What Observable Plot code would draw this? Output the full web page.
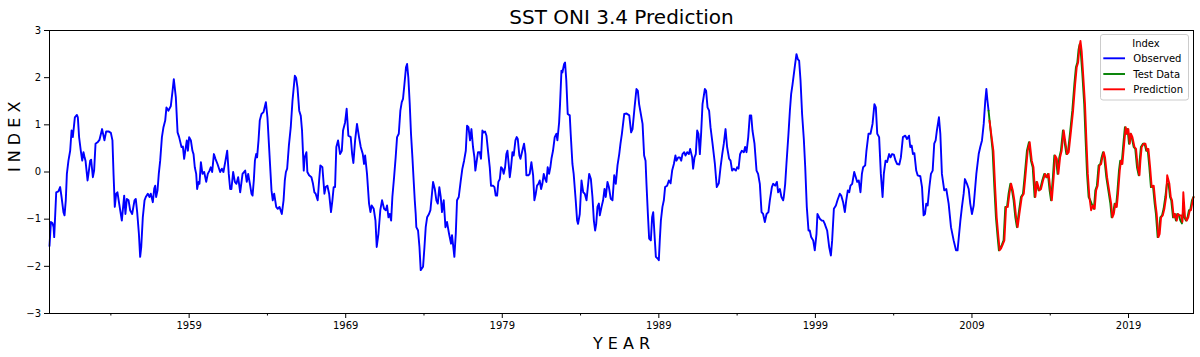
<!DOCTYPE html>
<html>
<head>
<meta charset="utf-8">
<script src="https://cdn.jsdelivr.net/npm/d3@7"></script>
<script src="https://cdn.jsdelivr.net/npm/@observablehq/plot@0.6"></script>
<style>
  html, body { margin: 0; padding: 0; background: white; }
  #wrap { position: relative; width: 1200px; height: 357px; font-family: "DejaVu Sans", sans-serif; }
  #legend { position: absolute; left: 1100px; top: 34px; }
</style>
</head>
<body>
<div id="wrap"></div>
<script>
const titleText = "SST ONI 3.4 Prediction";
const xLabel = "Y E A R";
const yLabel = "I N D E X";
const seriesNames = ["Observed", "Test Data", "Prediction"];
const seriesColors = ["#0000ff", "#008000", "#ff0000"];
const legendTitle = "Index";
const xMajorTicks = [1959, 1969, 1979, 1989, 1999, 2009, 2019];
const xMinorTicks = [1954, 1964, 1974, 1984, 1994, 2004, 2014];
const yTicks = [-3, -2, -1, 0, 1, 2, 3];

// [year, index]
const observed = [
[1950.08,-1.57],[1950.17,-1.06],[1950.27,-1.08],[1950.34,-1.17],[1950.38,-1.38],[1950.51,-0.43],[1950.65,-0.41],[1950.76,-0.32],[1950.85,-0.53],[1950.97,-0.85],
[1951.04,-0.92],[1951.12,-0.60],[1951.19,-0.04],[1951.29,0.24],[1951.40,0.45],[1951.49,0.88],[1951.57,0.74],[1951.70,1.16],[1951.83,1.21],[1951.89,1.16],[1951.97,0.74],
[1952.08,0.45],[1952.17,0.24],[1952.25,0.42],[1952.32,0.31],[1952.38,0.24],[1952.51,-0.18],[1952.57,-0.04],[1952.68,0.24],[1952.74,0.26],[1952.85,-0.11],[1952.93,0.03],
[1953.02,0.60],[1953.15,0.63],[1953.27,0.68],[1953.44,0.91],[1953.59,0.67],[1953.70,0.86],[1953.85,0.86],[1954.00,0.83],[1954.10,0.67],[1954.17,-0.04],[1954.25,-0.74],
[1954.34,-0.46],[1954.42,-0.43],[1954.53,-0.67],[1954.70,-1.03],[1954.85,-0.50],[1954.93,-0.89],[1955.02,-0.57],[1955.13,-0.60],[1955.23,-0.81],[1955.36,-0.89],
[1955.51,-0.60],[1955.59,-0.57],[1955.68,-0.85],[1955.79,-1.31],[1955.87,-1.80],[1955.94,-1.59],[1956.04,-0.96],[1956.15,-0.60],[1956.23,-0.53],[1956.36,-0.46],
[1956.47,-0.53],[1956.55,-0.46],[1956.68,-0.64],[1956.77,-0.35],[1956.83,-0.29],[1956.89,-0.53],[1956.98,-0.39],[1957.06,-0.04],[1957.15,0.24],[1957.26,0.74],
[1957.36,0.95],[1957.47,1.09],[1957.55,1.37],[1957.68,1.30],[1957.83,1.40],[1957.94,1.72],[1958.02,1.97],[1958.15,1.58],[1958.26,0.84],[1958.36,0.74],[1958.51,0.53],
[1958.60,0.54],[1958.68,0.28],[1958.77,0.49],[1958.85,0.67],[1958.92,0.45],[1959.00,0.74],[1959.11,0.67],[1959.21,0.45],[1959.28,0.38],[1959.36,0.10],[1959.45,-0.04],
[1959.51,-0.36],[1959.60,-0.21],[1959.66,-0.25],[1959.75,0.21],[1959.85,-0.04],[1959.96,0.00],[1960.09,-0.21],[1960.19,-0.04],[1960.30,0.03],[1960.38,0.10],[1960.47,0.00],
[1960.58,0.38],[1960.68,0.28],[1960.81,0.17],[1960.98,0.00],[1961.09,0.07],[1961.19,0.00],[1961.32,0.24],[1961.43,0.45],[1961.53,-0.04],[1961.62,-0.36],[1961.70,-0.36],
[1961.81,0.00],[1961.92,-0.21],[1962.02,-0.25],[1962.13,-0.11],[1962.26,-0.43],[1962.41,-0.04],[1962.58,0.03],[1962.68,-0.21],[1962.77,-0.04],[1962.90,-0.29],[1962.98,-0.46],
[1963.05,-0.50],[1963.13,-0.18],[1963.20,0.24],[1963.28,0.38],[1963.34,0.31],[1963.43,0.67],[1963.51,1.09],[1963.62,1.23],[1963.75,1.27],[1963.90,1.48],[1964.00,1.16],
[1964.07,0.74],[1964.17,0.14],[1964.26,-0.39],[1964.34,-0.60],[1964.43,-0.46],[1964.56,-0.74],[1964.66,-0.78],[1964.77,-0.74],[1964.92,-0.89],[1965.03,-0.60],[1965.11,-0.18],
[1965.18,0.00],[1965.26,0.07],[1965.37,0.56],[1965.49,0.95],[1965.60,1.51],[1965.66,1.72],[1965.75,2.04],[1965.83,2.00],[1965.92,1.79],[1966.03,1.30],
[1966.13,1.19],[1966.21,0.88],[1966.32,0.03],[1966.38,0.31],[1966.49,0.42],[1966.55,0.00],[1966.66,-0.07],[1966.81,-0.11],[1966.91,-0.25],[1967.00,-0.43],[1967.08,-0.46],
[1967.21,-0.60],[1967.30,-0.18],[1967.38,0.14],[1967.51,0.10],[1967.64,-0.46],[1967.72,-0.32],[1967.83,-0.29],[1967.94,-0.46],[1968.06,-0.85],[1968.15,-0.60],[1968.23,-0.32],
[1968.32,-0.32],[1968.40,0.53],[1968.51,0.67],[1968.64,0.38],[1968.75,0.45],[1968.83,0.88],[1968.96,1.05],[1969.06,1.34],[1969.17,0.77],[1969.32,0.74],[1969.41,0.38],
[1969.49,0.19],[1969.60,0.67],[1969.72,1.02],[1969.85,0.74],[1969.96,0.53],[1970.09,0.38],[1970.17,0.17],[1970.24,0.35],[1970.36,-0.04],[1970.49,-0.67],[1970.58,-0.85],
[1970.66,-0.71],[1970.79,-0.78],[1970.90,-1.03],[1970.98,-1.59],[1971.09,-1.31],[1971.21,-0.81],[1971.32,-0.60],[1971.45,-0.78],[1971.56,-0.81],[1971.64,-0.71],[1971.73,-0.96],
[1971.81,-0.89],[1971.90,-1.03],[1971.98,-0.53],[1972.09,-0.11],[1972.19,0.31],[1972.28,0.74],[1972.39,0.81],[1972.49,1.30],[1972.58,1.48],[1972.66,1.55],[1972.75,1.86],
[1972.85,2.22],[1972.92,2.29],[1973.00,2.00],[1973.09,1.44],[1973.17,0.81],[1973.26,0.31],[1973.34,-0.18],[1973.41,-0.60],[1973.47,-0.89],[1973.51,-1.17],[1973.62,-1.24],
[1973.71,-1.59],[1973.79,-2.08],[1973.94,-2.01],[1974.03,-1.59],[1974.11,-1.17],[1974.20,-0.96],[1974.32,-0.89],[1974.41,-0.81],[1974.49,-0.53],[1974.58,-0.21],[1974.69,-0.36],
[1974.79,-0.60],[1974.88,-0.67],[1974.98,-0.32],[1975.07,-0.53],[1975.15,-0.85],[1975.26,-0.60],[1975.37,-1.17],[1975.47,-1.06],[1975.60,-1.31],[1975.73,-1.52],[1975.79,-1.34],
[1975.94,-1.80],[1976.03,-1.31],[1976.11,-0.60],[1976.22,-0.53],[1976.35,-0.18],[1976.45,0.07],[1976.56,0.24],[1976.67,0.45],[1976.75,0.98],[1976.84,0.95],[1976.94,0.67],
[1977.03,0.91],[1977.13,0.53],[1977.22,0.31],[1977.28,0.03],[1977.37,0.24],[1977.45,0.42],[1977.56,0.42],[1977.64,0.28],[1977.73,0.88],[1977.81,0.84],[1977.90,0.86],
[1977.99,0.77],[1978.11,0.38],[1978.20,0.10],[1978.28,-0.29],[1978.41,-0.29],[1978.50,-0.32],[1978.58,-0.50],[1978.67,-0.50],[1978.75,-0.21],[1978.84,-0.15],[1978.92,0.10],
[1979.01,0.07],[1979.09,-0.04],[1979.18,0.10],[1979.26,0.38],[1979.33,0.45],[1979.41,0.17],[1979.48,-0.11],[1979.56,0.10],[1979.65,0.42],[1979.73,0.35],[1979.84,0.67],
[1979.92,0.74],[1979.99,0.70],[1980.09,0.35],[1980.16,0.28],[1980.28,0.45],[1980.39,0.60],[1980.48,0.38],[1980.54,-0.07],[1980.67,-0.07],[1980.75,-0.04],[1980.86,0.21],
[1980.97,-0.07],[1981.05,-0.60],[1981.14,-0.46],[1981.22,-0.29],[1981.31,-0.25],[1981.39,-0.18],[1981.48,-0.36],[1981.56,-0.25],[1981.65,-0.04],[1981.73,-0.14],[1981.82,-0.21],
[1981.90,0.10],[1981.99,-0.04],[1982.07,0.10],[1982.14,0.28],[1982.24,0.45],[1982.35,0.74],[1982.46,0.81],[1982.52,0.67],[1982.63,1.05],[1982.69,1.44],[1982.78,2.15],
[1982.84,2.11],[1982.95,2.29],[1983.01,2.32],[1983.09,1.94],[1983.18,1.23],[1983.31,1.20],[1983.37,0.81],[1983.48,0.17],[1983.56,-0.04],[1983.69,-0.60],[1983.78,-1.03],
[1983.84,-1.10],[1983.95,-0.89],
[1984.06,-0.18],[1984.17,-0.43],[1984.27,-0.46],[1984.38,-0.60],[1984.55,-0.04],[1984.66,-0.15],[1984.76,-0.53],[1984.85,-1.03],[1984.93,-1.24],[1985.00,-1.10],[1985.08,-0.74],
[1985.17,-0.67],[1985.23,-0.92],[1985.34,-0.74],[1985.44,-0.60],[1985.53,-0.36],[1985.61,-0.53],[1985.72,-0.21],[1985.81,-0.32],[1985.93,-0.57],[1986.04,-0.60],[1986.15,-0.07],
[1986.25,-0.25],[1986.36,0.14],[1986.47,0.38],[1986.55,0.60],[1986.64,0.81],[1986.79,1.23],[1986.94,1.24],[1987.11,1.20],[1987.23,0.84],[1987.32,0.91],[1987.45,1.37],
[1987.57,1.76],[1987.66,1.72],[1987.74,1.44],[1987.85,1.23],[1987.96,1.02],[1988.06,0.35],[1988.15,0.24],[1988.21,-0.25],[1988.30,-0.89],[1988.38,-1.41],[1988.49,-1.45],
[1988.57,-0.96],[1988.64,-0.85],[1988.72,-1.31],[1988.81,-1.80],[1988.94,-1.84],[1989.00,-1.87],[1989.06,-1.45],[1989.13,-1.03],[1989.23,-0.74],[1989.32,-0.60],[1989.40,-0.32],
[1989.53,-0.29],[1989.64,-0.18],[1989.75,-0.24],[1989.85,0.03],[1989.96,0.17],[1990.06,0.35],[1990.13,0.24],[1990.24,0.31],[1990.34,0.31],[1990.43,0.24],[1990.51,0.38],
[1990.62,0.42],[1990.70,0.35],[1990.81,0.42],[1990.92,0.38],[1991.00,0.49],[1991.13,0.31],[1991.19,0.07],[1991.28,0.31],[1991.36,0.38],[1991.45,0.88],[1991.53,0.81],
[1991.62,0.38],[1991.70,0.81],[1991.79,1.44],[1991.94,1.76],[1992.02,1.72],[1992.11,1.37],[1992.21,1.30],[1992.30,0.95],[1992.43,0.60],[1992.58,0.17],[1992.70,-0.32],
[1992.83,-0.24],[1992.94,0.10],[1993.05,0.38],[1993.15,0.60],[1993.26,0.91],[1993.36,0.53],[1993.49,0.28],[1993.58,0.24],[1993.68,0.03],[1993.79,0.07],[1993.92,0.03],
[1994.00,0.10],[1994.09,0.07],[1994.19,0.38],[1994.30,0.45],[1994.43,0.42],[1994.51,0.53],[1994.60,0.42],[1994.71,0.74],[1994.81,1.20],[1994.90,1.20],[1994.98,0.88],
[1995.11,0.60],[1995.24,0.03],[1995.34,-0.04],[1995.45,-0.25],[1995.56,-0.85],[1995.66,-0.89],[1995.77,-1.06],[1995.88,-0.89],[1996.00,-0.85],[1996.09,-0.60],[1996.22,-0.32],
[1996.30,-0.25],[1996.43,-0.29],[1996.54,-0.21],[1996.62,-0.43],[1996.73,-0.36],[1996.83,-0.53],[1996.94,-0.60],[1996.98,-0.53],[1997.07,-0.25],[1997.15,0.17],[1997.28,0.81],
[1997.37,1.30],[1997.45,1.65],[1997.54,1.86],[1997.69,2.25],[1997.79,2.50],[1997.88,2.39],[1997.96,2.36],[1998.05,1.94],[1998.15,1.23],[1998.26,0.70],[1998.35,0.10],
[1998.45,-0.74],[1998.56,-1.24],[1998.64,-1.24],[1998.73,-1.38],[1998.86,-1.45],[1998.96,-1.66],[1999.07,-1.31],[1999.13,-0.89],[1999.28,-0.99],[1999.41,-1.03],[1999.50,-1.03],
[1999.60,-1.10],[1999.67,-1.17],[1999.75,-1.24],[1999.88,-1.59],[1999.99,-1.77],[2000.07,-1.45],[2000.18,-0.78],[2000.31,-0.71],[2000.41,-0.60],[2000.56,-0.46],[2000.65,-0.50],
[2000.77,-0.64],[2000.88,-0.85],[2000.97,-0.60],[2001.07,-0.39],[2001.16,-0.43],[2001.24,-0.29],[2001.35,-0.25],[2001.48,0.00],[2001.58,-0.11],[2001.67,-0.21],[2001.77,-0.18],
[2001.88,-0.43],[2001.97,-0.04],[2002.05,0.10],[2002.18,0.14],[2002.26,0.45],[2002.39,0.81],[2002.52,0.81],[2002.65,1.02],[2002.77,1.44],[2002.86,1.37],[2002.95,0.81],
[2003.07,0.74],[2003.18,-0.04],[2003.29,-0.53],[2003.37,-0.04],[2003.48,0.24],[2003.58,0.21],[2003.71,0.38],[2003.80,0.31],[2003.90,0.38],[2004.01,0.37],[2004.12,0.24],
[2004.22,0.17],
[2004.36,0.16],[2004.46,0.31],[2004.59,0.74],[2004.74,0.77],[2004.85,0.70],[2004.98,0.77],[2005.06,0.53],[2005.15,0.56],[2005.23,0.38],[2005.32,0.40],[2005.44,0.03],
[2005.53,-0.07],[2005.70,-0.09],[2005.81,-0.32],[2005.91,-0.92],[2006.00,-0.89],[2006.08,-0.67],[2006.17,-0.71],[2006.28,-0.32],[2006.38,-0.04],[2006.49,0.03],[2006.59,0.60],
[2006.68,0.67],[2006.76,0.88],[2006.89,1.16],[2006.98,0.81],[2007.08,-0.04],[2007.23,-0.39],[2007.36,-0.36],[2007.51,-0.67],[2007.66,-1.17],[2007.83,-1.45],[2007.98,-1.66],
[2008.08,-1.66],[2008.26,-1.03],[2008.36,-0.74],[2008.47,-0.46],[2008.55,-0.15],[2008.68,-0.25],[2008.79,-0.36],[2008.89,-0.67],[2009.00,-0.89],[2009.11,-0.71],[2009.28,-0.04],
[2009.43,0.38],[2009.53,0.53],[2009.64,0.67],[2009.75,1.02],[2009.85,1.51],[2009.92,1.76],[2009.99,1.51],[2010.06,1.30]
];

const testData = [
[2010.06,1.30],[2010.32,0.45],[2010.43,-0.32],[2010.53,-0.96],[2010.64,-1.38],[2010.72,-1.66],[2010.81,-1.62],[2010.90,-1.55],[2011.02,-1.45],[2011.13,-0.74],
[2011.24,-0.74],[2011.34,-0.46],[2011.45,-0.25],[2011.56,-0.39],[2011.66,-0.60],[2011.77,-0.96],[2011.87,-1.17],[2011.98,-0.89],[2012.13,-0.53],[2012.26,-0.46],
[2012.36,-0.11],[2012.51,0.45],[2012.64,0.63],[2012.77,0.24],[2012.88,0.10],[2013.00,-0.53],[2013.11,-0.21],[2013.26,-0.39],[2013.36,-0.36],[2013.49,-0.18],
[2013.62,-0.04],[2013.75,-0.11],[2013.85,-0.04],[2013.96,-0.39],[2014.05,-0.60],[2014.17,-0.11],[2014.26,0.35],[2014.37,0.28],[2014.47,-0.04],[2014.58,0.31],
[2014.68,0.45],[2014.81,0.88],[2014.90,0.67],[2015.03,0.38],[2015.13,0.42],[2015.28,0.88],[2015.41,1.30],[2015.54,1.86],[2015.64,2.22],[2015.73,2.32],
[2015.81,2.60],[2015.88,2.71],[2015.96,2.50],[2016.05,2.08],[2016.17,1.44],[2016.26,0.67],[2016.35,-0.04],[2016.45,-0.53],[2016.56,-0.60],[2016.69,-0.71],
[2016.79,-0.78],[2016.88,-0.39],[2016.98,-0.29],[2017.09,0.14],[2017.20,0.17],[2017.28,0.31],[2017.37,0.42],[2017.45,0.31],[2017.58,-0.11],[2017.71,-0.39],
[2017.84,-0.67],[2017.92,-0.96],[2018.01,-0.89],[2018.11,-0.67],[2018.20,-0.74],[2018.28,-0.46],[2018.39,0.03],[2018.47,0.24],[2018.56,0.17],[2018.69,0.67],
[2018.77,0.95],[2018.86,0.81],[2018.94,0.91],[2019.03,0.60],[2019.11,0.81],[2019.20,0.74],[2019.33,0.53],[2019.43,0.49],[2019.54,0.10],[2019.65,-0.07],
[2019.71,0.24],[2019.79,0.53],[2019.92,0.60],[2020.03,0.60],[2020.13,0.45],[2020.22,0.49],[2020.33,0.10],[2020.43,-0.32],[2020.56,-0.29],[2020.67,-0.67],
[2020.75,-0.89],[2020.86,-1.38],[2020.94,-1.31],[2021.03,-0.96],[2021.14,-0.92],[2021.24,-0.78],[2021.35,-0.53],[2021.45,-0.25],[2021.56,-0.25],[2021.65,-0.53],
[2021.73,-0.60],[2021.84,-0.96],[2021.92,-0.89],[2022.03,-1.03],[2022.11,-0.89],[2022.22,-0.92],[2022.31,-1.03],[2022.41,-1.09],[2022.48,-0.85],[2022.56,-0.96],
[2022.67,-1.03],[2022.77,-0.96],[2022.86,-0.81],[2022.94,-0.81],[2023.05,-0.60],[2023.15,-0.53]
];

const prediction = [
[2010.12,1.09],[2010.37,0.45],[2010.48,-0.32],[2010.58,-0.96],[2010.69,-1.38],[2010.77,-1.66],[2010.86,-1.62],[2010.95,-1.55],[2011.07,-1.45],[2011.18,-0.74],
[2011.29,-0.74],[2011.39,-0.46],[2011.50,-0.25],[2011.61,-0.39],[2011.71,-0.60],[2011.82,-0.96],[2011.92,-1.17],[2012.03,-0.89],[2012.18,-0.53],[2012.31,-0.46],
[2012.41,-0.11],[2012.56,0.45],[2012.69,0.63],[2012.82,0.24],[2012.93,0.10],[2013.05,-0.53],[2013.16,-0.21],[2013.31,-0.39],[2013.41,-0.36],[2013.54,-0.18],
[2013.67,-0.04],[2013.80,-0.11],[2013.90,-0.04],[2014.01,-0.39],[2014.10,-0.60],[2014.22,-0.11],[2014.31,0.35],[2014.42,0.28],[2014.52,-0.04],[2014.63,0.31],
[2014.73,0.45],[2014.86,0.88],[2014.95,0.67],[2015.08,0.38],[2015.18,0.42],[2015.33,0.88],[2015.46,1.30],[2015.59,1.86],[2015.69,2.22],[2015.78,2.32],
[2015.86,2.64],[2015.93,2.78],[2016.01,2.55],[2016.10,2.08],[2016.22,1.44],[2016.31,0.67],[2016.40,-0.04],[2016.50,-0.53],[2016.61,-0.81],[2016.74,-0.71],
[2016.84,-0.78],[2016.93,-0.39],[2017.03,-0.29],[2017.14,0.14],[2017.25,0.17],[2017.33,0.31],[2017.42,0.42],[2017.50,0.31],[2017.63,-0.11],[2017.76,-0.39],
[2017.89,-0.67],[2017.97,-0.96],[2018.06,-0.89],[2018.16,-0.67],[2018.25,-0.74],[2018.33,-0.46],[2018.44,0.03],[2018.52,0.24],[2018.61,0.17],[2018.74,0.67],
[2018.82,0.95],[2018.91,0.81],[2018.99,0.91],[2019.08,0.60],[2019.16,0.81],[2019.25,0.74],[2019.38,0.53],[2019.48,0.49],[2019.59,0.10],[2019.70,-0.07],
[2019.76,0.24],[2019.84,0.53],[2019.97,0.60],[2020.08,0.60],[2020.18,0.45],[2020.27,0.49],[2020.38,0.10],[2020.48,-0.32],[2020.61,-0.29],[2020.72,-0.67],
[2020.80,-0.89],[2020.91,-1.38],[2020.99,-1.31],[2021.08,-0.96],[2021.19,-0.92],[2021.29,-0.78],[2021.40,-0.53],[2021.47,-0.07],[2021.61,-0.25],[2021.70,-0.53],
[2021.78,-0.60],[2021.89,-0.96],[2021.97,-0.89],[2022.08,-1.03],[2022.16,-0.89],[2022.27,-0.92],[2022.36,-0.92],[2022.44,-1.06],[2022.50,-0.43],[2022.61,-0.96],
[2022.72,-1.03],[2022.82,-0.96],[2022.91,-0.81],[2022.99,-0.81],[2023.10,-0.60],[2023.15,-0.53]
];

const rows = (pts) => pts.map(([year, value]) => ({year, value}));
const minus = (d) => (d < 0 ? "\u2212" : "") + Math.abs(d);

const chart = Plot.plot({
  width: 1200,
  height: 357,
  marginLeft: 49,
  marginRight: 7,
  marginTop: 30,
  marginBottom: 44,
  style: {fontFamily: "DejaVu Sans, sans-serif", fontSize: "10px", color: "#000", background: "white"},
  x: {domain: [1950.08, 2023.15]},
  y: {domain: [-3, 3]},
  marks: [
    Plot.line(rows(observed), {x: "year", y: "value", stroke: seriesColors[0], strokeWidth: 1.9}),
    Plot.line(rows(testData), {x: "year", y: "value", stroke: seriesColors[1], strokeWidth: 1.9}),
    Plot.line(rows(prediction), {x: "year", y: "value", stroke: seriesColors[2], strokeWidth: 1.9}),
    Plot.frame({stroke: "#000", strokeWidth: 1}),
    Plot.axisX({ticks: xMajorTicks, tickSize: 5, tickPadding: 3.5, tickFormat: (d) => String(d), label: null, fontSize: 10}),
    Plot.axisX({ticks: xMinorTicks, tickSize: 2.5, tickFormat: () => "", label: null}),
    Plot.axisY({ticks: yTicks, tickSize: 5, tickPadding: 3.5, tickFormat: minus, label: null, fontSize: 10}),
    Plot.text([titleText], {text: (d) => d, frameAnchor: "top", lineAnchor: "bottom", dy: -6.5, fontSize: 20}),
    Plot.text([xLabel], {text: (d) => d, frameAnchor: "bottom", lineAnchor: "bottom", dy: 35, fontSize: 16}),
    Plot.text([yLabel], {text: (d) => d, frameAnchor: "left", rotate: -90, dx: -35, fontSize: 16})
  ]
});

const wrap = document.getElementById("wrap");
wrap.appendChild(chart);

// legend (matplotlib-style, upper right)
const ns = "http://www.w3.org/2000/svg";
const lg = document.createElementNS(ns, "svg");
lg.setAttribute("id", "legend");
lg.setAttribute("width", 90);
lg.setAttribute("height", 68);
let html = `<rect x="0.5" y="0.5" width="88" height="65.5" rx="2.5" ry="2.5" fill="rgba(255,255,255,0.8)" stroke="#cccccc" stroke-width="1"/>`;
html += `<text x="46" y="9.3" text-anchor="middle" dominant-baseline="central" font-size="10" font-family="DejaVu Sans" fill="#000">${legendTitle}</text>`;
const rowsY = [24.3, 40, 55.3];
seriesNames.forEach((name, i) => {
  html += `<line x1="3.3" x2="25" y1="${rowsY[i]}" y2="${rowsY[i]}" stroke="${seriesColors[i]}" stroke-width="1.9"/>`;
  html += `<text x="33.3" y="${rowsY[i]}" dominant-baseline="central" font-size="10" font-family="DejaVu Sans" fill="#000">${name}</text>`;
});
lg.innerHTML = html;
wrap.appendChild(lg);
</script>
</body>
</html>
